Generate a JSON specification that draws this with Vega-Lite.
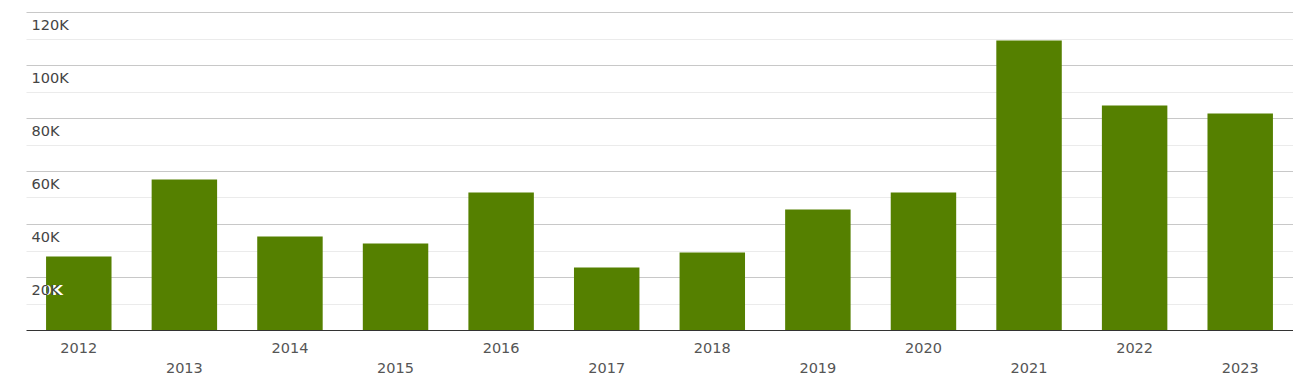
{
  "$schema": "https://vega.github.io/schema/vega-lite/v6.json",
  "autosize": {"type": "none"},
  "width": 1267,
  "height": 318,
  "padding": {"left": 26, "top": 12, "right": 0, "bottom": 54},
  "background": "white",
  "config": {
    "view": {"stroke": null},
    "axis": {"labelFont": "DejaVu Sans", "labelFontSize": 14.5}
  },
  "data": {
    "values": [
      {"year": "2012", "value": 27700},
      {"year": "2013", "value": 56800},
      {"year": "2014", "value": 35300},
      {"year": "2015", "value": 32600},
      {"year": "2016", "value": 51900},
      {"year": "2017", "value": 23600},
      {"year": "2018", "value": 29200},
      {"year": "2019", "value": 45500},
      {"year": "2020", "value": 51900},
      {"year": "2021", "value": 109200},
      {"year": "2022", "value": 84700},
      {"year": "2023", "value": 81700}
    ]
  },
  "encoding": {
    "x": {
      "field": "year",
      "type": "ordinal",
      "scale": {"paddingInner": 0.38, "paddingOuter": 0.19},
      "axis": {
        "title": null,
        "labelAngle": 0,
        "ticks": false,
        "tickSize": 0,
        "domainColor": "#333333",
        "domainWidth": 1,
        "labelColor": "#555555",
        "labelBaseline": "top",
        "labelPadding": {"condition": {"test": "toNumber(datum.value) % 2 === 1", "value": 31}, "value": 11},
        "labelOverlap": false,
        "labelBound": false
      }
    }
  },
  "layer": [
    {
      "mark": {"type": "bar", "color": "#558000"},
      "encoding": {
        "y": {
          "field": "value",
          "type": "quantitative",
          "scale": {"domain": [0, 120000], "nice": false},
          "axis": {
            "orient": "left",
            "title": null,
            "values": [10000, 20000, 30000, 40000, 50000, 60000, 70000, 80000, 90000, 100000, 110000, 120000],
            "grid": true,
            "gridColor": {"condition": {"test": "datum.value % 20000 === 0", "value": "#c8c8c8"}, "value": "#ebebeb"},
            "gridWidth": 1,
            "labels": false,
            "ticks": false,
            "domain": false,
            "zindex": 0
          }
        }
      }
    },
    {
      "mark": {"type": "bar", "opacity": 0},
      "encoding": {
        "y": {
          "field": "value",
          "type": "quantitative",
          "axis": {
            "orient": "left",
            "title": null,
            "values": [20000],
            "labelExpr": "(datum.value / 1000) + 'K'",
            "grid": false,
            "ticks": false,
            "tickSize": 0,
            "domain": false,
            "labelAlign": "left",
            "labelBaseline": "alphabetic",
            "labelPadding": -5,
            "labelOffset": 17.5,
            "labelColor": "#ffffff",
            "labelFontWeight": 900,
            "labelFlush": false,
            "labelBound": false,
            "labelOverlap": false,
            "zindex": 1
          }
        }
      }
    },
    {
      "mark": {"type": "bar", "opacity": 0},
      "encoding": {
        "y": {
          "field": "value",
          "type": "quantitative",
          "axis": {
            "orient": "left",
            "title": null,
            "values": [20000, 40000, 60000, 80000, 100000, 120000],
            "labelExpr": "(datum.value / 1000) + 'K'",
            "grid": false,
            "ticks": false,
            "tickSize": 0,
            "domain": false,
            "labelAlign": "left",
            "labelBaseline": "alphabetic",
            "labelPadding": -5,
            "labelOffset": 17.5,
            "labelColor": "#444444",
            "labelFlush": false,
            "labelBound": false,
            "labelOverlap": false,
            "zindex": 2
          }
        }
      }
    }
  ],
  "resolve": {"axis": {"y": "independent"}}
}
